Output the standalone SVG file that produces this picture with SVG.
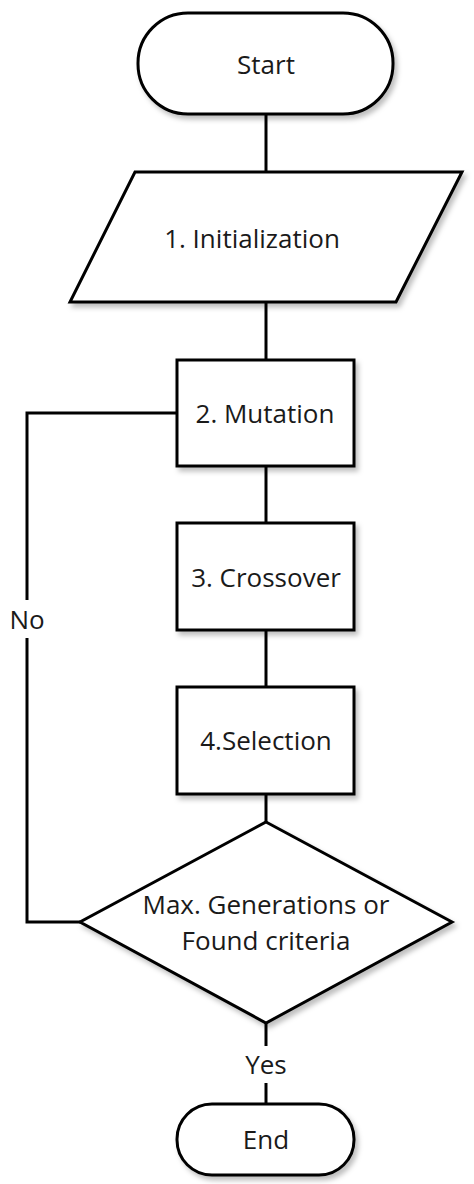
<svg xmlns="http://www.w3.org/2000/svg" width="474" height="1184" viewBox="0 0 474 1184">
<style>
.shape{fill:#fff;stroke:#000;stroke-width:3;filter:url(#sh)}
.conn{fill:none;stroke:#000;stroke-width:3}
text{font-family:"Open Sans","Liberation Sans",sans-serif;font-size:26px;fill:#1a1a1a;text-anchor:middle;dominant-baseline:central}
</style>
<defs>
<filter id="sh" x="-10%" y="-10%" width="125%" height="130%">
<feDropShadow dx="3" dy="4" stdDeviation="2.5" flood-color="#000" flood-opacity="0.25"/>
</filter>
</defs>
<rect width="474" height="1184" fill="#fff"/>
<g id="connectors">
<line class="conn" x1="266" y1="114" x2="266" y2="172"/>
<line class="conn" x1="266" y1="302" x2="266" y2="360"/>
<line class="conn" x1="266" y1="466" x2="266" y2="523"/>
<line class="conn" x1="266" y1="630" x2="266" y2="687"/>
<line class="conn" x1="266" y1="794" x2="266" y2="822"/>
<polyline class="conn" points="80,922 27,922 27,638"/>
<polyline class="conn" points="27,600 27,413 177,413"/>
<text x="27" y="619">No</text>
<line class="conn" x1="266" y1="1023" x2="266" y2="1046"/>
<line class="conn" x1="266" y1="1083" x2="266" y2="1104"/>
<text x="266" y="1064">Yes</text>
</g>
<g id="start">
<rect class="shape" x="138" y="13" width="255" height="101" rx="50" ry="50"/>
<text x="266" y="64">Start</text>
</g>
<g id="init">
<polygon class="shape" points="135,172 462,172 396,302 70,302"/>
<text x="252" y="238">1. Initialization</text>
</g>
<g id="mutation">
<rect class="shape" x="177" y="360" width="177" height="106"/>
<text x="265" y="413">2. Mutation</text>
</g>
<g id="crossover">
<rect class="shape" x="177" y="523" width="177" height="107"/>
<text x="266" y="577">3. Crossover</text>
</g>
<g id="selection">
<rect class="shape" x="177" y="687" width="177" height="107"/>
<text x="266" y="740">4.Selection</text>
</g>
<g id="decision">
<polygon class="shape" points="266,822 452,922 266,1023 80,922"/>
<text x="266" y="904">Max. Generations or</text>
<text x="266" y="940">Found criteria</text>
</g>
<g id="end">
<rect class="shape" x="177" y="1104" width="177" height="71" rx="35" ry="35"/>
<text x="266" y="1139">End</text>
</g>
</svg>
